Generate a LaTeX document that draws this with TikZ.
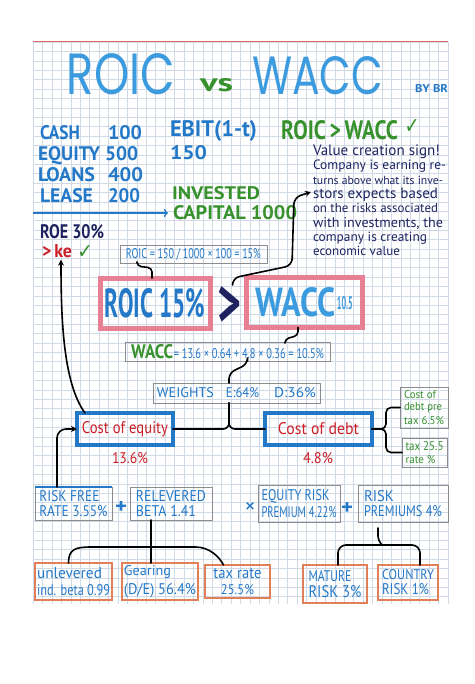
\documentclass[tikz,border=0pt]{standalone}
\usepackage{graphicx}
\usepackage{fontspec}
\setmainfont{PT Sans}
\newfontfamily\titlefont{Poppins}
\newfontfamily\symfont{DejaVu Sans}
\usetikzlibrary{arrows.meta,calc}
\definecolor{mblue}{RGB}{35,120,200}
\definecolor{tblue}{RGB}{60,155,222}
\definecolor{mgreen}{RGB}{55,145,45}
\definecolor{mnavy}{RGB}{30,35,95}
\definecolor{mred}{RGB}{205,30,40}
\definecolor{mpink}{RGB}{232,128,148}
\definecolor{morange}{RGB}{225,128,88}
\definecolor{gridc}{RGB}{208,218,230}
\definecolor{boxgray}{RGB}{140,140,140}
\definecolor{topred}{RGB}{222,110,105}
\newcommand\fx[3]{\resizebox{#1pt}{#2pt}{#3}}
\newcommand\fw[2]{\resizebox{#1pt}{!}{#2}}
\begin{document}
\begin{tikzpicture}[x=1pt,y=-1pt,
  txt/.style={inner sep=0pt, outer sep=0pt},
  boxbase/.style={inner sep=0pt, outer sep=0pt, align=left, font=\fontsize{4}{4}\selectfont},
  graybox/.style={boxbase, draw=boxgray, line width=0.6pt},
  pinkbox/.style={boxbase, draw=mpink, line width=5pt},
  bluebox/.style={boxbase, draw=mblue, line width=4pt},
  orangebox/.style={boxbase, draw=morange, line width=2.5pt},
  conn/.style={draw=black, line width=1.6pt, line cap=round, line join=round},
  tip/.style={-{Stealth[length=6pt,width=6pt]}}
]
\useasboundingbox (0,0) rectangle (474,684);
\fill[white] (0,0) rectangle (474,684);
% grid paper
\foreach \i in {0,...,44} \draw[gridc, line width=0.35pt] ({33+9.43*\i},42) -- ({33+9.43*\i},604);
\foreach \j in {0,...,59} \draw[gridc, line width=0.35pt] (33,{42+9.4*\j}) -- (448,{42+9.4*\j});
\draw[topred, line width=1pt] (33,42) -- (448,42);

% title
\node[txt, text=tblue, font=\titlefont] (t1) at (121,74) {\fx{108}{41}{ROIC}};
\node[txt, text=mgreen, font=\bfseries] (tvs) at (216.5,85) {\fx{33}{13}{vs}};
\node[txt, text=tblue, font=\titlefont] (t2) at (317.5,76) {\fx{131}{38}{WACC}};
\node[txt, text=mblue, font=\bfseries] (by) at (431.5,89) {\fx{33}{8}{BY BR}};

% balance sheet
\node[txt, anchor=base west, text=mblue, font=\bfseries] (cash) at (40,140) {\fx{40}{14}{CASH}};
\node[txt, anchor=base west, text=mblue, font=\bfseries] (n100) at (108,140) {\fx{34}{14}{100}};
\node[txt, anchor=base west, text=mblue, font=\bfseries] (equity) at (38,161) {\fx{62}{14}{EQUITY}};
\node[txt, anchor=base west, text=mblue, font=\bfseries] (n500) at (105,161) {\fx{33}{14}{500}};
\node[txt, anchor=base west, text=mblue, font=\bfseries] (loans) at (38,182) {\fx{57}{14}{LOANS}};
\node[txt, anchor=base west, text=mblue, font=\bfseries] (n400) at (108,182) {\fx{35}{14}{400}};
\node[txt, anchor=base west, text=mblue, font=\bfseries] (lease) at (40,203) {\fx{53}{14}{LEASE}};
\node[txt, anchor=base west, text=mblue, font=\bfseries] (n200) at (108,203) {\fx{32}{14}{200}};
\node[txt, anchor=west, text=mblue, font=\bfseries] (ebit) at (170,131) {\fx{87}{16}{EBIT(1-t)}};
\node[txt, anchor=base west, text=mblue, font=\bfseries] (n150) at (170,160) {\fx{37}{14}{150}};
\node[txt, anchor=west, text=mgreen, font=\bfseries] (invested) at (172,193) {\fx{88}{13}{INVESTED}};
\node[txt, anchor=west, text=mgreen, font=\bfseries] (capital) at (173,213) {\fx{124}{14}{CAPITAL 1000}};
\draw[mblue, line width=1.3pt, -{To[length=4pt,width=8pt]}] ($(lease.west |- capital.west)+(-7,0)$) -- ($(capital.west)+(-5,0)$);

% ROIC > WACC
\node[txt, anchor=west, text=mgreen, font=\bfseries] (rw) at (281,130) {\fx{117}{19}{ROIC\,>\,WACC}};
\node[txt, text=mgreen] (rwcheck) at (412,127) {\fx{15}{14}{\symfont ✓}};
\node[txt, anchor=north west, text=mnavy, align=left, font=\fontsize{10}{14.3}\selectfont] (desc) at (313,145)
 {\fw{127}{Value creation sign!}\\
  \fw{133}{Company is earning re-}\\
  \fw{130}{turns above what its inve-}\\
  \fw{125}{stors expects based}\\
  \fw{125}{on the risks associated}\\
  \fw{130}{with investments, the}\\
  \fw{114}{company is creating}\\
  \fw{87}{economic value}};

% ROE
\node[txt, anchor=west, text=mnavy, font=\bfseries] (roe) at (40,232) {\fx{64}{14}{ROE 30\%}};
\node[txt, anchor=west, text=mred, font=\bfseries] (ke) at (42,251) {\fx{30}{13}{>\,ke}};
\node[txt, text=mgreen] (kecheck) at (85,252) {\fx{16}{13}{\symfont ✓}};

% ROIC / WACC
\node[graybox, minimum width=147pt, minimum height=18pt, text=mblue] (rok) at (193.5,254) {\fx{135}{10}{ROIC = 150 / 1000 × 100 = 15\%}};
\node[pinkbox, minimum width=110pt, minimum height=50pt, text=mblue, font=\bfseries] (roicbox) at (155,303) {\fx{100}{29}{ROIC 15\%}};
\node[txt, text=mnavy, font=\bfseries] (gt) at (229.5,306) {\fx{24}{40}{>}};
\node[pinkbox, minimum width=116pt, minimum height=50pt, text=tblue, font=\bfseries] (waccbox) at (304,302.5) {\fx{80}{29}{WACC}\,\raisebox{7pt}{\fx{16}{13}{10.5}}};
\node[graybox, minimum width=205pt, minimum height=19pt] (wform) at (227.5,351.5) {\textcolor{mgreen}{\bfseries\fx{42}{14}{WACC}}\,\textcolor{mblue}{\fx{150}{10}{= 13.6 × 0.64 + 4.8 × 0.36 = 10.5\%}}};
\node[graybox, minimum width=167pt, minimum height=20pt, text=mblue] (weights) at (236.5,393) {\fx{57}{10}{WEIGHTS}\hspace{12pt}\fx{33}{10}{E:64\%}\hspace{15pt}\fx{42}{10}{D:36\%}};

% cost of capital
\node[bluebox, minimum width=96pt, minimum height=32pt, text=mred] (coe) at (125,429) {\fx{86}{12}{Cost of equity}};
\node[txt, text=mred] (coeval) at (130,458) {\fx{36}{11}{13.6\%}};
\node[bluebox, minimum width=107pt, minimum height=32pt, text=mred] (cod) at (318.5,429) {\fx{81}{12}{Cost of debt}};
\node[txt, text=mred] (codval) at (318,458) {\fx{30}{11}{4.8\%}};
\node[graybox, minimum width=48pt, minimum height=41pt, text=mgreen] (pretax) at (424,407.5) {\fx{32}{8}{Cost of}\\[2.5pt]\fx{38}{8}{debt pre}\\[2.5pt]\fx{40}{8}{tax 6.5\%}};
\node[graybox, minimum width=45pt, minimum height=29pt, text=mgreen] (taxr) at (424.5,452.5) {\fx{38}{9}{tax 25.5}\\[3pt]\fx{30}{8}{rate \%}};

% CAPM row
\node[graybox, minimum width=77pt, minimum height=33pt, text=mblue] (rf) at (73.5,503.5) {\fx{60}{11}{RISK FREE}\\[2pt]\fx{68}{11}{RATE 3.55\%}};
\draw[mblue, line width=2pt] (rf.north west) -- (rf.north east);
\node[txt, text=mblue, font=\bfseries] (plus1) at (121,507) {\fx{12}{12}{+}};
\node[graybox, minimum width=82pt, minimum height=33pt, text=mblue] (rel) at (171,503.5) {\fx{70}{11}{RELEVERED}\\[2pt]\fx{60}{11}{BETA 1.41}};
\node[txt, text=mblue] (times) at (250,508) {\fx{11}{11}{×}};
\node[graybox, minimum width=82pt, minimum height=37pt, text=mblue] (erp) at (299,503.5) {\fx{68}{11}{EQUITY RISK}\\[2pt]\fx{75}{11}{PREMIUM 4.22\%}};
\node[txt, text=mblue, font=\bfseries] (plus2) at (347,508) {\fx{12}{12}{+}};
\node[graybox, minimum width=90pt, minimum height=37pt, text=mblue] (rp) at (403,503.5) {\fx{30}{11}{RISK}\\[2pt]\fx{78}{11}{PREMIUMS 4\%}};

% bottom row
\node[orangebox, minimum width=77pt, minimum height=37pt, text=mblue] (unlev) at (73.5,581.5) {\fx{65}{11}{unlevered}\\[4pt]\fx{73}{11}{ind. beta 0.99}};
\node[orangebox, minimum width=76pt, minimum height=37pt, text=mblue] (gear) at (160,581.5) {\fx{47}{10}{Gearing}\\[4pt]\fx{72}{11}{(D/E) 56.4\%}};
\node[orangebox, minimum width=65pt, minimum height=33pt, text=mblue, align=center] (taxrate) at (237.5,581.5) {\fx{48}{10}{tax rate}\\[4pt]\fx{33}{10}{25.5\%}};
\node[orangebox, minimum width=64pt, minimum height=38pt, text=mblue] (mature) at (335,584) {\fx{43}{11}{MATURE}\\[3pt]\fx{53}{12}{RISK 3\%}};
\node[orangebox, minimum width=60pt, minimum height=35pt, text=mblue] (country) at (408,582.5) {\fx{52}{10}{COUNTRY}\\[3pt]\fx{47}{11}{RISK 1\%}};

% connectors
\draw[conn, rounded corners=4] ($(rok.south west)+(17,0)$) -- ++(0,3) -- ($(roicbox.north west)+(52,-10)$) -- ($(roicbox.north west)+(52,0)$);
\draw[conn, tip, rounded corners=7] ($(gt.north)+(3,-1)$) -- ($(gt.north)+(3,-8)$) -- ($(waccbox.north west)+(46,-12)$) -- ($(waccbox.north west)+(48,-80)$) -- ($(desc.north west)+(-2,47)$);
\draw[conn, rounded corners=4] ($(waccbox.south west)+(52,0)$) -- ++(0,8) -- ($(wform.north east)+(-45,-3)$) -- ($(wform.north east)+(-45,0)$);
\draw[conn, rounded corners=6] ($(wform.south)+(20,0)$) -- ++(0,3) -- ($(weights.north)+(-7.5,-10)$) -- ($(weights.north)+(-7.5,0)$);
\draw[conn, rounded corners=6] ($(weights.south)+(-7.5,0)$) |- (coe.east);
\draw[conn, rounded corners=6] ($(weights.south)+(-7.5,0)$) |- (cod.west);
\draw[conn, rounded corners=5] (cod.east) -- ++(14,0) |- (pretax.west);
\draw[conn, rounded corners=5] (cod.east) -- ++(14,0) |- (taxr.west);
\draw[conn, tip, rounded corners=9] ($(rf.north west)+(22,0)$) |- (coe.west);
\draw[conn, tip] ($(coe.north west)+(8,0)$) .. controls ($(coe.north west)+(-14,-30)$) and ($(ke.south)+(4,60)$) .. ($(ke.south)+(4,2)$);
\draw[conn] ($(rel.south)+(-20,0)$) -- ($(gear.north)+(-9,0)$);
\draw[conn] ($(unlev.north)+(-5,0)$) .. controls ($(unlev.north)+(-5,-14)$) and ($(unlev.north)+(2,-16)$) .. ($(unlev.north)+(18,-16)$) -- ($(taxrate.north)+(-42,-18)$) .. controls ($(taxrate.north)+(-28,-18)$) and ($(taxrate.north)+(-18,-8)$) .. ($(taxrate.north)+(-14,0)$);
\draw[conn, rounded corners=8] ($(mature.north)+(3,0)$) |- ($(country.north)+(12,-20)$) -- ($(country.north)+(12,0)$);
\draw[conn, rounded corners=4] ($(rp.south)+(-25,6)$) -- ++(0,12) -- ++(4,5);
\end{tikzpicture}
\end{document}
